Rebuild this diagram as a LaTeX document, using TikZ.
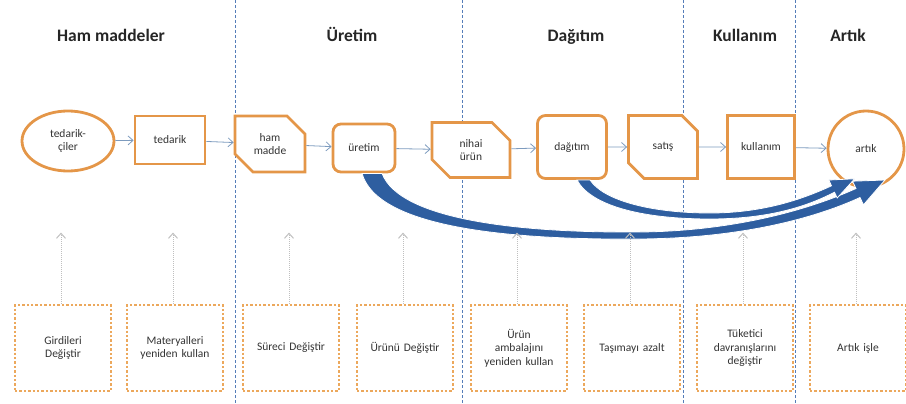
\documentclass[tikz,border=0pt]{standalone}
\usepackage{fontspec}
\setmainfont{Carlito}
\usetikzlibrary{arrows.meta,shapes.geometric,shapes.misc,positioning,calc}
\definecolor{boxorange}{RGB}{228,150,72}
\definecolor{dotorange}{RGB}{236,168,92}
\definecolor{flowblue}{RGB}{125,155,190}
\definecolor{bigblue}{RGB}{46,94,160}
\definecolor{divblue}{RGB}{85,125,185}
\tikzset{
    phase/.style={font=\fontsize{17.5}{20}\selectfont\bfseries, text=black!85, anchor=base},
    stage/.style={draw=boxorange, line width=2.8pt, fill=white, font=\fontsize{11.5}{13.5}\selectfont, text=black!80, align=center, inner sep=2pt},
    rectstage/.style={stage, rectangle},
    roundstage/.style={stage, rectangle, rounded corners=8pt},
    snipstage/.style={stage, chamfered rectangle, chamfered rectangle corners={north east, south west}, chamfered rectangle xsep=9pt, chamfered rectangle ysep=9pt},
    idea/.style={draw=dotorange, line width=2.8pt, dash pattern=on 2.4pt off 2pt, minimum width=96pt, minimum height=86pt, text width=88pt, inner sep=0pt, align=center, font=\fontsize{11.5}{13.5}\selectfont, text=black!80},
    flow/.style={-{Straight Barb[length=5pt, width=9pt]}, draw=flowblue, line width=0.8pt},
    lever/.style={-{Straight Barb[length=5pt, width=9pt]}, draw=gray!50, line width=1pt, densely dotted},
    divider/.style={draw=divblue, line width=0.6pt, dash pattern=on 3pt off 2pt},
    bigarrow/.style={fill=bigblue, draw=white, line width=0.8pt}
}

\begin{document}
\begin{tikzpicture}[x=1pt, y=-1pt]
    \useasboundingbox (0,0) rectangle (906,404);

    % phase dividers
    \foreach \x in {235,462,683,795}
        \draw[divider] (\x,0) -- (\x,404);

    % phase titles
    \node[phase] (hdham) at (111,42) {Ham maddeler};
    \node[phase] (hduret) at (352,42) {Üretim};
    \node[phase] (hddag) at (576,42) {Dağıtım};
    \node[phase] (hdkul) at (745,42) {Kullanım};
    \node[phase] (hdart) at (848,42) {Artık};

    % flow of the product
    \node[stage, ellipse, minimum width=92pt, minimum height=60pt] (tedarikci) at (68,141) {tedarik-\\çiler};
    \node[rectstage, minimum width=70pt, minimum height=48pt] (tedarik) at (170,140) {tedarik};
    \node[snipstage, minimum width=70pt, minimum height=56pt] (hammadde) at (270,144) {ham\\madde};
    \node[roundstage, minimum width=62pt, minimum height=48pt] (uretim) at (364,148) {üretim};
    \node[snipstage, minimum width=78pt, minimum height=55pt] (nihai) at (471,150) {nihai\\ürün};
    \node[roundstage, minimum width=69pt, minimum height=63pt] (dagitim) at (572,147) {dağıtım};
    \node[snipstage, minimum width=69pt, minimum height=63pt] (satis) at (663,147) {satış};
    \node[rectstage, minimum width=67pt, minimum height=63pt] (kullanim) at (761,147) {kullanım};
    \node[stage, circle, minimum size=76pt] (artik) at (866,149) {artık};

    \foreach \a/\b in {tedarikci/tedarik, tedarik/hammadde, hammadde/uretim, uretim/nihai,
                       nihai/dagitim, dagitim/satis, satis/kullanim, kullanim/artik}
        \draw[flow] (\a) -- (\b);

    % waste returns
    \filldraw[bigarrow] ([xshift=-2pt]uretim.south) .. controls (378,230) and (520,240) .. (640,239)
        .. controls (750,238) and (822,215) .. (860,197.5) -- (863.5,204.8) -- (885,180) -- (852.5,181.2) -- (856,188.5)
        .. controls (815,207) and (740,231) .. (640,232)
        .. controls (520,233) and (400,220) .. ([xshift=18pt]uretim.south) -- cycle;
    \filldraw[bigarrow] ([xshift=5pt]dagitim.south) .. controls (590,205) and (640,219) .. (710,219)
        .. controls (770,219) and (808,206) .. (834.5,192.2) -- (837.2,198) -- (854.7,178.8) -- (828.8,180) -- (831.5,185.8)
        .. controls (805,198) and (765,213) .. (710,213)
        .. controls (650,213) and (603,200) .. ([xshift=18pt]dagitim.south) -- cycle;

    % improvement options
    \node[idea] (girdi) at (63,348) {Girdileri\\Değiştir};
    \node[idea] (materyal) at (175,348) {Materyalleri\\yeniden kullan};
    \node[idea] (surec) at (291,348) {Süreci Değiştir};
    \node[idea] (urun) at (405,348) {Ürünü Değiştir};
    \node[idea] (ambalaj) at (519,348) {Ürün\\ambalajını\\yeniden kullan};
    \node[idea] (tasima) at (632,348) {Taşımayı azalt};
    \node[idea] (tuketici) at (745,348) {Tüketici\\davranışlarını\\değiştir};
    \node[idea] (artikisle) at (858,348) {Artık işle};

    \foreach \b in {girdi,materyal,surec,urun,ambalaj,tasima,tuketici,artikisle}{
        \coordinate (\b-tip) at ($(\b.north)+(-2,-71)$);
        \draw[lever] (\b.north -| \b-tip) -- (\b-tip);
    }
\end{tikzpicture}
\end{document}
